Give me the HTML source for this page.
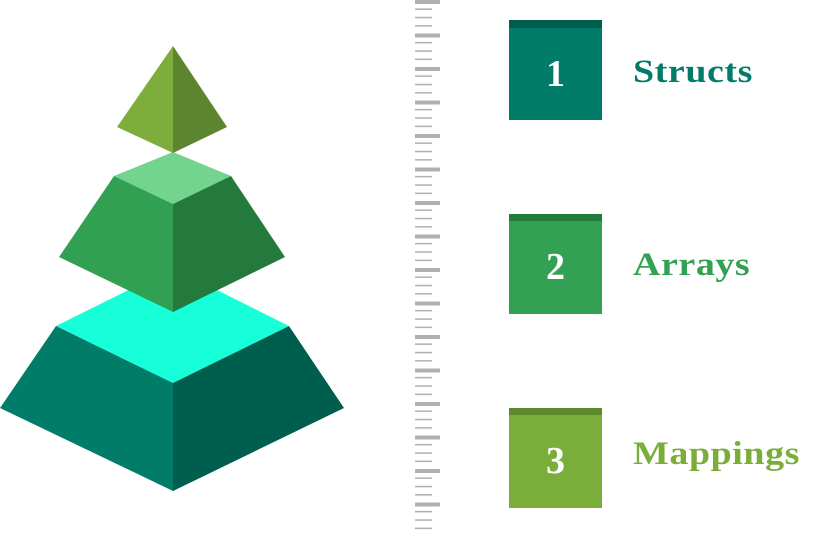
<!DOCTYPE html>
<html><head><style>
body{margin:0;background:#fff;width:818px;height:536px;overflow:hidden;position:relative;font-family:"Liberation Serif",serif}
.t{position:absolute;left:633px;font-weight:bold;font-size:33px;letter-spacing:0.5px;transform:scaleX(1.15);transform-origin:0 0}
.box{position:absolute;left:509px;width:93px;height:100px}
.band{height:8px}
.n{color:#fff;font-weight:bold;font-size:38px;text-align:center;line-height:92px}
</style></head><body>
<svg width="818" height="536" style="position:absolute;left:0;top:0">
<polygon points="173,268 289,326 173,383 56,326" fill="#17ffd8"/>
<polygon points="56,326 173,383 173,491 0,408" fill="#007c69"/>
<polygon points="289,326 173,383 173,491 344,408" fill="#005e4f"/>
<polygon points="173,152 231,176 173,204 114,176" fill="#72d48e"/>
<polygon points="114,176 173,204 173,312 59,257" fill="#32a053"/>
<polygon points="231,176 173,204 173,312 285,257" fill="#24793d"/>
<polygon points="173,46 117,127 173,153" fill="#7dae3d"/>
<polygon points="173,46 227,127 173,153" fill="#5d842e"/>
<g id="r"></g>
</svg>
<div class="box" style="top:20px;background:#007c69"><div class="band" style="background:#005e4f"></div><div class="n">1</div></div>
<div class="box" style="top:214px;background:#33a153"><div class="band" style="background:#237a3d;height:7px"></div><div class="n">2</div></div>
<div class="box" style="top:408px;background:#7bad3a"><div class="band" style="background:#5c8a2c;height:7px"></div><div class="n">3</div></div>
<div class="t" style="top:54px;color:#007c69">Structs</div>
<div class="t" style="top:247px;color:#33a153">Arrays</div>
<div class="t" style="top:436px;color:#7bad3a">Mappings</div>
<script>
var g=document.getElementById('r'),s='';
for(var i=0;i<=64;i++){var y=i*33.5/4;var L=i%4==0;
s+='<rect x="415" y="'+y.toFixed(1)+'" width="'+(L?25:17)+'" height="'+(L?4:1.5)+'" fill="#b0b0b0"/>';}
g.innerHTML=s;
</script>
</body></html>
